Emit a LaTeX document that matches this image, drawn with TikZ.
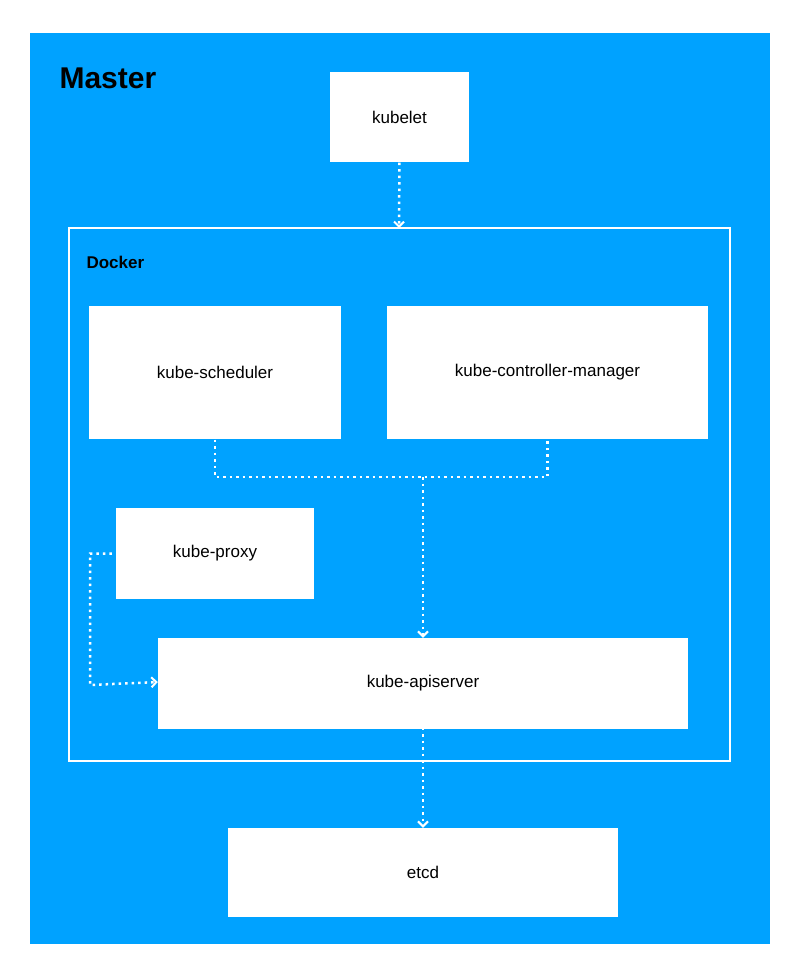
\documentclass[tikz,border=0pt]{standalone}
\usepackage{fontspec}
\setmainfont{Liberation Sans}
\usetikzlibrary{arrows.meta}
\definecolor{bg}{HTML}{00A2FF}
\begin{document}
\begin{tikzpicture}[x=1pt,y=-1pt,
  box/.style={fill=white,draw=none,inner sep=0,font=\fontsize{17}{20}\selectfont},
  dots/.style={draw=white,line width=2.5pt,dash pattern=on 2.5pt off 4pt},
  arr/.style={dots,-{Straight Barb[length=5pt,width=10pt,line width=2pt]}}]
\useasboundingbox (0,0) rectangle (784,968);
\fill[bg] (30,33) rectangle (770,944);
\node[anchor=west,font=\bfseries\fontsize{30}{34}\selectfont] (master) at (56,78) {Master};
\node[box,minimum width=139,minimum height=90] (kubelet) at (399.5,117) {kubelet};
\draw[white,line width=2.5pt] (69,228) rectangle (730,761);
\coordinate (dtop) at (399,228);
\node[anchor=west,font=\bfseries\fontsize{17}{20}\selectfont] (docker) at (83,262) {Docker};
\node[box,minimum width=252,minimum height=133] (sched) at (215,372.5) {kube-scheduler};
\node[box,minimum width=321,minimum height=133] (ctrl) at (547.5,372.5) {kube-controller-manager};
\node[box,minimum width=198,minimum height=91] (proxy) at (215,553.5) {kube-proxy};
\node[box,minimum width=530,minimum height=91] (api) at (423,683.5) {kube-apiserver};
\node[box,minimum width=390,minimum height=89] (etcd) at (423,872.5) {etcd};
\coordinate (j) at (423,477);
\draw[arr] ([yshift=6]kubelet.south) -- (dtop);
\draw[dots] ([yshift=6]sched.south) |- (j) -| ([yshift=6]ctrl.south);
\draw[arr] (j) -- (api.north);
\draw[arr] ([xshift=-4]proxy.west) -| (90,685) -- ([yshift=1.5]api.west);
\draw[arr] ([yshift=8]api.south) -- (etcd.north);
\end{tikzpicture}
\end{document}
